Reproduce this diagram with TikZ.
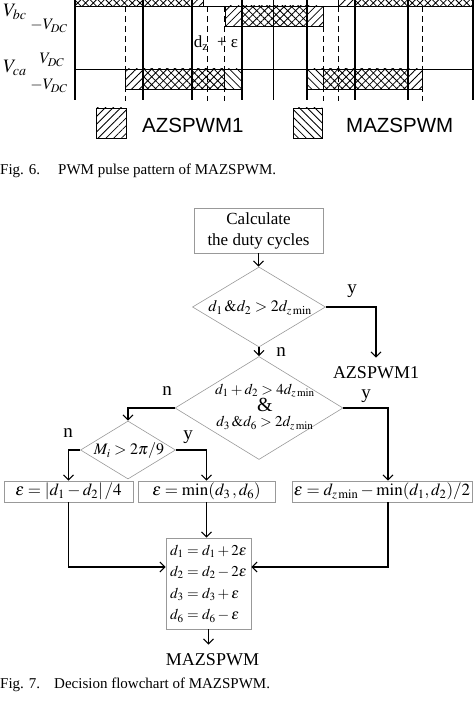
\documentclass[tikz,border=0pt]{standalone}
\usepackage{mathptmx}
\usepackage{fontspec}
\setmainfont{Liberation Serif}
\newfontfamily\legendfont{Liberation Sans}
\usetikzlibrary{shapes.geometric,arrows.meta,patterns.meta}

\tikzset{
  pulse/.style={draw,line width=0.8pt},
  hatchA/.style={pulse,pattern={Lines[angle=45,distance=5.5pt,line width=0.8pt]}},
  hatchB/.style={pulse,pattern={Lines[angle=-45,distance=5.5pt,line width=0.8pt]}},
  cross/.style={pulse,pattern={Hatch[angle=45,distance=5.5pt,line width=0.8pt]}},
  edge/.style={dashed,dash pattern=on 6pt off 4pt,line width=1pt},
  lvl/.style={font=\fontsize{16}{18}\selectfont,inner sep=0pt},
  legend/.style={font=\legendfont\fontsize{20.5}{22}\selectfont,inner sep=0pt},
  caption/.style={font=\fontsize{15}{18}\selectfont,inner sep=0pt,anchor=base west},
  box/.style={rectangle,draw=gray!80,line width=0.6pt,inner sep=0pt,font=\fontsize{17}{21}\selectfont},
  decision/.style={diamond,draw=gray!80,line width=0.6pt,inner sep=0pt},
  cond/.style={font=\fontsize{16}{18}\selectfont,inner sep=0pt},
  term/.style={font=\fontsize{18}{20}\selectfont,inner sep=0pt},
  yn/.style={font=\fontsize{19}{21}\selectfont,inner sep=0pt},
  link/.style={draw,line width=1.1pt,->},
}

\begin{document}
\begin{tikzpicture}[x=1pt,y=-1pt,>={Straight Barb[length=5pt,width=10pt]}]
\useasboundingbox (0,0) rectangle (474,703);

% pulse pattern
\draw[line width=0.8pt] (75,6) -- (473,6);
\draw[line width=0.8pt] (75,69) -- (473,69);
\foreach \xa/\xb/\ya/\yb/\hs in {75/192/-6/6/cross, 192/203/-6/6/hatchA,
    338/355/-6/6/hatchA, 355/473/-6/6/cross,
    225/242/6/26/hatchA, 242/307/6/26/cross, 307/323/6/26/hatchA,
    125/143/69/89/hatchA, 143/224/69/89/cross, 224/242/69/89/hatchB,
    307/323/69/89/hatchB, 323/408/69/89/cross, 408/422/69/89/hatchA}
{
  \draw[\hs] (\xa,\ya) rectangle (\xb,\yb);
}
\foreach \x in {143,192,242,307,355,408}
{
  \draw[line width=1.2pt] (\x,-6) -- (\x,100);
}
\draw[line width=0.8pt] (273,-6) -- (273,100);
\foreach \x in {125,207,224,323,338,422}
{
  \draw[edge] (\x,6) -- (\x,101);
}
\draw[line width=2.5pt] (75,-6) -- (75,100);
\draw[line width=2.5pt] (473,-6) -- (473,100);

\node[lvl,font=\fontsize{19}{21}\selectfont] (vbc) at (15,12) {$V_{bc}$};
\node[lvl] (mbc) at (49,26) {$-V_{DC}$};
\node[lvl] (pca) at (52,60) {$V_{DC}$};
\node[lvl,font=\fontsize{19}{21}\selectfont] (vca) at (15,68) {$V_{ca}$};
\node[lvl] (mca) at (49,86) {$-V_{DC}$};
\node[lvl,font=\fontsize{17}{19}\selectfont] (dze) at (216,43) {d\textsubscript{z}\ \ + ε};

% legend
\draw[hatchA] (96,108) rectangle (126,138);
\node[legend,anchor=west] (lgA) at (142,125) {AZSPWM1};
\draw[hatchB] (293,108) rectangle (322,138);
\node[legend,anchor=west] (lgB) at (346,125) {MAZSPWM};

\node[caption] (cap6) at (0,175) {Fig. 6.\hspace{18pt}PWM pulse pattern of MAZSPWM.};

% flowchart
\node[box,minimum width=129pt,minimum height=45pt,align=center] (calc) at (258.5,230.5) {Calculate\\the duty cycles};
\node[decision,minimum width=133pt,minimum height=80pt] (dec1) at (259,307) {};
\node[cond] (c1) at (260,308) {$d_1\,\&d_2>2d_{z\min}$};
\node[decision,minimum width=168pt,minimum height=103pt] (dec2) at (259,408) {};
\node[cond,align=center,font=\fontsize{15}{15}\selectfont] (c2) at (265,407)
  {$d_1+d_2>4d_{z\min}$\\{\fontsize{20}{15}\selectfont\&}\\$d_3\,\&d_6>2d_{z\min}$};
\node[decision,minimum width=95pt,minimum height=58pt] (dec3) at (128,450) {};
\node[cond] (c3) at (129,451) {$M_i>2\pi/9$};

\node[box,minimum width=129pt,minimum height=21pt] (epsA) at (68.5,491.5) {$\varepsilon=\left|d_1-d_2\right|/4$};
\node[box,minimum width=137pt,minimum height=21pt] (epsB) at (206.5,491.5) {$\varepsilon=\min(d_3\,,d_6)$};
\node[box,minimum width=180pt,minimum height=21pt] (epsC) at (382,491.5) {$\varepsilon=d_{z\min}-\min(d_1,d_2)/2$};

\node[box,minimum width=85pt,minimum height=91pt,align=left,font=\fontsize{15}{21.5}\selectfont] (upd) at (208.5,583.5)
  {$d_1=d_1+2\varepsilon$\\$d_2=d_2-2\varepsilon$\\$d_3=d_3+\varepsilon$\\$d_6=d_6-\varepsilon$};

\node[term] (azs) at (376,373) {AZSPWM1};
\node[term] (maz) at (212.5,660) {MAZSPWM};

\draw[link] (calc.south) -- (calc.south |- dec1.north);
\draw[link,shorten >=9pt] (dec1.east) -| (azs.north);
\draw[link] (dec1.south) -- (dec2.north);
\draw[link] (dec2.west) -| (dec3.north);
\draw[link] (dec2.east) -| ([xshift=6pt]epsC.north);
\draw[link] (dec3.west) -| (epsA.north);
\draw[link] (dec3.east) -| (epsB.north);
\draw[link] (epsA.south) |- ([yshift=16.5pt]upd.west);
\draw[link] (epsB.south) -- (epsB.south |- upd.north);
\draw[link] ([xshift=6pt]epsC.south) |- ([yshift=16.5pt]upd.east);
\draw[link,shorten >=9pt] (upd.south) -- (upd.south |- maz.north);

\node[yn] (n1) at (281,352) {n};
\node[yn] (y1) at (352,291) {y};
\node[yn] (n2) at (167,391) {n};
\node[yn] (y2) at (366,396) {y};
\node[yn] (n3) at (68,433) {n};
\node[yn] (y3) at (188,437) {y};

\node[caption] (cap7) at (0,688) {Fig. 7.\hspace{14pt}Decision flowchart of MAZSPWM.};
\end{tikzpicture}
\end{document}
